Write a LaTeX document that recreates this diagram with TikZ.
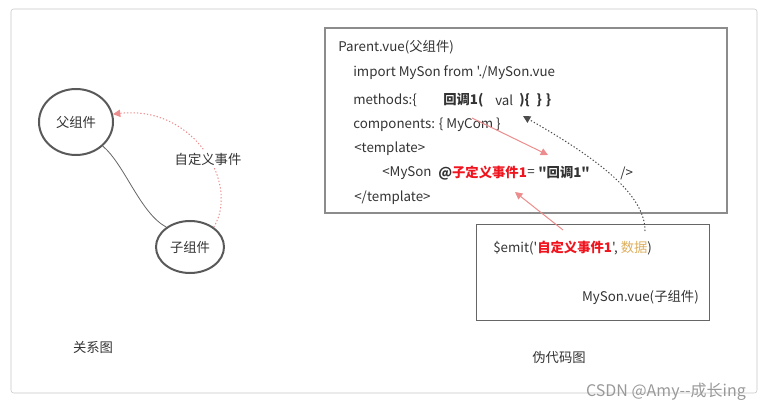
\documentclass[tikz,border=0pt]{standalone}
\usepackage{fontspec}
\setmainfont{Noto Sans CJK SC}[Ligatures=TeXOff]
\usetikzlibrary{arrows.meta,shapes.geometric}
\definecolor{txtdark}{HTML}{333333}
\definecolor{evred}{HTML}{F0141E}
\definecolor{datagold}{HTML}{DDAE5C}
\definecolor{hintpink}{HTML}{EC8C8C}
\newcommand\sq{\symbol{39}}

\begin{document}
\begin{tikzpicture}[x=0.75pt,y=-0.75pt,
    every node/.style={font=\fontsize{10}{12}\selectfont, text=txtdark},
    code/.style={anchor=west, inner sep=0pt},
    comp/.style={draw=black!65, line width=1.5pt, ellipse, inner sep=0pt},
    link/.style={draw=black!60, line width=0.6pt},
    evtline/.style={draw=hintpink, line width=0.75pt, dash pattern=on 1pt off 1.5pt,
        -{Triangle[length=5.5pt,width=5.5pt]}},
    hint/.style={draw=hintpink, line width=0.75pt, -{Triangle[length=5.5pt,width=5.5pt]}},
    back/.style={draw=black!70, line width=0.75pt, dash pattern=on 1pt off 1.5pt,
        -{Triangle[length=5.5pt,width=5.5pt]}}]
    \useasboundingbox (0,0) rectangle (773,413);
    \draw[black!22, rounded corners=2pt] (11,9) rectangle (757,393);

    % relation graph
    \node[comp, minimum width=55.5pt, minimum height=49.5pt] (par) at (76,122) {父组件};
    \node[comp, minimum width=51pt, minimum height=39pt] (chi) at (190,247) {子组件};
    \draw[link] (par.-42) .. controls (125,165) and (140,213) .. (chi.140);
    \draw[evtline] (chi.40) .. controls (240,185) and (195,105) .. (par.12);
    \node[fill=white, inner sep=2pt] (evt) at (208,159) {自定义事件};
    \node (relcap) at (93,347) {关系图};

    % pseudo code: parent
    \draw[black!45, line width=1.2pt] (325,28) rectangle (727,213);
    \node[code] (ttl) at (338,47) {Parent.vue(父组件)};
    \node[code] (imp) at (353,73) {import MySon from \sq./MySon.vue};
    \node[code] (mth) at (353,100) {methods:\{};
    \node[code] (cb) at (443,100) {\textbf{回调1(}};
    \node[code] (val) at (495,100) {val};
    \node[code] (cbend) at (519,100) {\textbf{)\{\hspace{5pt}\}\hspace{3pt}\}}};
    \node[code] (cmp) at (353,125) {components: \{ MyCom \}};
    \node[code] (tpl) at (354,149) {<template>};
    \node[code] (son) at (382,173) {<MySon};
    \node[code] (at) at (438,173) {\textbf{@\textcolor{evred}{子定义事件1}}};
    \node[code] (eq) at (527,173) {=};
    \node[code] (cbref) at (538,173) {\textbf{\symbol{34}回调1\symbol{34}}};
    \node[code] (close) at (620,173) {/>};
    \node[code] (etpl) at (354,198) {</template>};

    % pseudo code: child
    \draw[black!60, line width=0.6pt] (476,224) rectangle (709,320);
    \node[code] (emit) at (493,248) {\$emit(\sq\textbf{\textcolor{evred}{自定义事件1}}\sq, \textcolor{datagold}{数据})};
    \node[anchor=east, inner sep=0pt] (sfile) at (699,297) {MySon.vue(子组件)};
    \node (codecap) at (559,357) {伪代码图};

    % arrows
    \coordinate (mycom) at (472,118);
    \coordinate (cbtip) at (548,155);
    \coordinate (emtop) at (563,230);
    \coordinate (evtip) at (515,192);
    \coordinate (cbtop) at (645,231);
    \coordinate (valtip) at (523,116);
    \draw[hint] (mycom) -- (cbtip);
    \draw[hint] (emtop) -- (evtip);
    \draw[back] (cbtop) .. controls (645,195) and (600,160) .. (valtip);

    \node[text=black!40, font=\fontsize{12}{14}\selectfont] (mark) at (666,392) {CSDN @Amy-{}-成长ing};
\end{tikzpicture}
\end{document}
